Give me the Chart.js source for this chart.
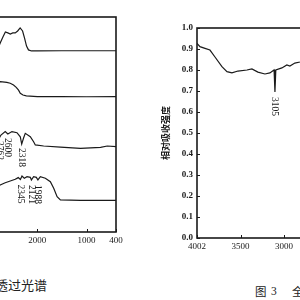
<!DOCTYPE html>
<html><head><meta charset="utf-8">
<script src="https://cdn.jsdelivr.net/npm/chart.js@4.4.1/dist/chart.umd.min.js"></script>
<style>
html,body{margin:0;padding:0;width:300px;height:300px;overflow:hidden;background:#fff;position:relative}
#c1{position:absolute;left:-90px;top:0}
#c2{position:absolute;left:150px;top:0}
.cap{position:absolute;font-family:"Noto Sans CJK SC";color:#222;white-space:nowrap;line-height:1}
</style></head><body>
<canvas id="c1" width="216" height="252"></canvas>
<canvas id="c2" width="370" height="260"></canvas>
<div class="cap" style="left:-5px;top:278px;font-size:13px">透过光谱</div>
<div class="cap" style="left:255px;top:286px;font-size:11.5px">图</div>
<div class="cap" style="left:271px;top:286px;font-size:11.5px;font-family:'Liberation Serif'">3</div>
<div class="cap" style="left:292px;top:286px;font-size:11.5px">全</div>
<script>
// ---- left chart (stacked transmission spectra) ----
const leftTicks = [4000, 3000, 2000, 1000, 400];
const wnA = [2780,2755,2700,2650,2600,2550,2500,2450,2400,2350,2300,2260,2220,2180,2120,2000,1500,1000,400];
const specA = [86.5,87.9,90.7,93.0,92.6,92.1,92.6,92.6,93.5,94.9,93.5,90.2,86.5,84.7,84.2,84.2,84.3,84.3,84.3];
const wnB = [2780,2755,2620,2551,2484,2429,2382,2347,2292,2224,2000,1500,1000,400];
const specB = [69.8,69.9,69.6,69.2,68.4,67.3,66.0,64.5,63.7,63.3,63.0,63.0,62.9,63.0];
const wnC = [2780,2762,2740,2653,2600,2516,2414,2347,2318,2280,2245,2143,2076,2041,1871,1531,1122,714,578,400];
const specC = [45.6,44.2,45.1,46.7,45.6,46.7,46.2,44.3,40.9,43.7,45.9,44.3,42.0,40.5,40.0,39.5,38.9,39.4,40.0,39.7];
const wnD = [2780,2755,2653,2551,2449,2388,2345,2312,2265,2210,2143,2121,2076,2020,1988,1939,1837,1735,1667,1598,1531,1122,400];
const specD = [21.4,21.9,22.9,23.7,24.5,25.3,24.4,26.0,25.0,25.7,25.4,24.2,25.7,25.4,24.2,25.7,25.0,23.4,20.3,16.4,14.9,14.7,14.7];
const peaksC = [2762, 2600, 2318];
const peaksD = [2345, 2121, 1988];

// ---- right chart (relative absorbance) ----
const rightTicksX = [4002, 3500, 3000, 2500, 2000, 1500, 1000, 400];
const wnR = [4002,3968,3910,3853,3795,3715,3657,3600,3531,3427,3370,3301,3220,3163,3115,3105,3095,3025,2968,2933,2876,2818,2760];
const absR = [0.927,0.911,0.903,0.895,0.862,0.816,0.792,0.786,0.795,0.800,0.805,0.790,0.781,0.786,0.800,0.695,0.800,0.810,0.824,0.819,0.833,0.838,0.845];
const peaksR = [3105];
const yTitle = '相对吸收强度';

const pts = (xs, ys) => xs.map((x, i) => ({x, y: ys[i]}));
const INK = '#1a1a1a';
const SERIF = '"Liberation Serif", "DejaVu Serif", serif';

const framePlugin = {
  id: 'frame',
  afterDatasetsDraw(chart, args, o) {
    const {ctx, chartArea: a, scales} = chart;
    ctx.save();
    ctx.strokeStyle = INK;
    ctx.lineWidth = o.lw;
    ctx.strokeRect(a.left, a.top, a.right - a.left, a.bottom - a.top);
    ctx.lineWidth = 1;
    scales.x.ticks.forEach(t => {
      const x = Math.round(scales.x.getPixelForValue(t.value)) + 0.5;
      ctx.beginPath(); ctx.moveTo(x, a.bottom); ctx.lineTo(x, a.bottom - o.tl); ctx.stroke();
    });
    if (o.yTicks) {
      scales.y.ticks.forEach(t => {
        const y = Math.round(scales.y.getPixelForValue(t.value)) + 0.5;
        ctx.beginPath(); ctx.moveTo(a.left, y); ctx.lineTo(a.left + o.tl, y); ctx.stroke();
      });
    }
    ctx.fillStyle = INK;
    ctx.font = o.labelFont;
    ctx.textAlign = 'left';
    ctx.textBaseline = 'middle';
    (o.labels || []).forEach(g => {
      const data = chart.data.datasets[g.ds].data;
      g.wn.forEach(w => {
        let best = data[0];
        data.forEach(p => { if (Math.abs(p.x - w) < Math.abs(best.x - w)) best = p; });
        const x = scales.x.getPixelForValue(w);
        const y = scales.y.getPixelForValue(best.y) + g.off;
        ctx.save();
        ctx.translate(x, y);
        ctx.rotate(Math.PI / 2);
        ctx.fillText(String(w), 0, 0);
        ctx.restore();
      });
    });
    ctx.restore();
  }
};

const lineDs = (d) => ({data: d, borderColor: INK, borderWidth: 1.2, pointRadius: 0, tension: 0, fill: false});
const plain = v => String(v);

new Chart(document.getElementById('c1'), {
  type: 'line',
  data: {datasets: [lineDs(pts(wnA, specA)), lineDs(pts(wnB, specB)), lineDs(pts(wnC, specC)), lineDs(pts(wnD, specD))]},
  options: {
    responsive: false, animation: false, devicePixelRatio: 1,
    layout: {padding: {left: 29, right: 10, top: 17, bottom: 0}},
    plugins: {legend: {display: false}, tooltip: {enabled: false},
      frame: {lw: 1.6, tl: 3, labelFont: '9.5px ' + SERIF,
        labels: [{ds: 2, wn: peaksC, off: 4}, {ds: 3, wn: peaksD, off: 5}]}},
    scales: {
      x: {type: 'linear', reverse: true, min: 400, max: 4000,
        afterBuildTicks: s => { s.ticks = leftTicks.map(v => ({value: v})); },
        afterFit: s => { s.height = 20; },
        grid: {display: false, drawTicks: false}, border: {display: false},
        ticks: {autoSkip: false, maxRotation: 0, padding: 3, color: INK, font: {family: SERIF, size: 9}, callback: plain}},
      y: {display: false, min: 0, max: 100}
    }
  },
  plugins: [framePlugin]
});

new Chart(document.getElementById('c2'), {
  type: 'line',
  data: {datasets: [lineDs(pts(wnR, absR))]},
  options: {
    responsive: false, animation: false, devicePixelRatio: 1,
    layout: {padding: {left: 0, right: 10, top: 28, bottom: 0}},
    plugins: {legend: {display: false}, tooltip: {enabled: false},
      frame: {lw: 1.6, tl: 3, yTicks: true, labelFont: '9.5px ' + SERIF,
        labels: [{ds: 0, wn: peaksR, off: 5}]}},
    scales: {
      x: {type: 'linear', reverse: true, min: 400, max: 4002,
        afterBuildTicks: s => { s.ticks = rightTicksX.map(v => ({value: v})); },
        afterFit: s => { s.height = 22; },
        grid: {display: false, drawTicks: false}, border: {display: false},
        ticks: {autoSkip: false, maxRotation: 0, padding: 3, color: INK, font: {family: SERIF, size: 9}, callback: plain}},
      y: {min: 0, max: 1,
        afterFit: s => { s.width = 47; },
        grid: {display: false, drawTicks: false}, border: {display: false},
        ticks: {stepSize: 0.1, padding: 4, color: INK, font: {family: SERIF, size: 9, weight: 'bold'},
          callback: v => v.toFixed(1)},
        title: {display: true, text: yTitle, color: INK, padding: {top: 10, bottom: 0},
          font: {family: '"Noto Sans CJK SC"', size: 9, weight: 'bold'}}}
    }
  },
  plugins: [framePlugin]
});
</script>
</body></html>
